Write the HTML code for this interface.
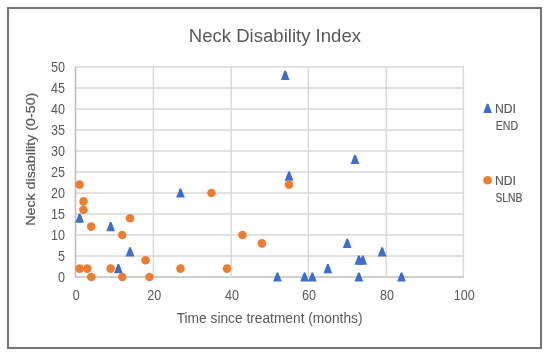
<!DOCTYPE html>
<html><head><meta charset="utf-8"><title>Neck Disability Index</title>
<style>
html,body{margin:0;padding:0;background:#fff;}
svg{display:block;}
text{font-family:'Liberation Sans', sans-serif;fill:#595959;}
</style></head>
<body>
<svg width="550" height="356" viewBox="0 0 550 356">
<rect x="0" y="0" width="550" height="356" fill="#fff"/>
<rect x="8" y="8" width="533" height="340" fill="#fff" stroke="#767676" stroke-width="2.1"/>
<text x="274.9" y="42" text-anchor="middle" font-size="17.6" textLength="172.2" lengthAdjust="spacingAndGlyphs">Neck Disability Index</text>
<line x1="75.00" y1="67.00" x2="463.90" y2="67.00" stroke="#D9D9D9" stroke-width="1.4"/><line x1="75.00" y1="88.00" x2="463.90" y2="88.00" stroke="#D9D9D9" stroke-width="1.4"/><line x1="75.00" y1="109.00" x2="463.90" y2="109.00" stroke="#D9D9D9" stroke-width="1.4"/><line x1="75.00" y1="130.00" x2="463.90" y2="130.00" stroke="#D9D9D9" stroke-width="1.4"/><line x1="75.00" y1="151.00" x2="463.90" y2="151.00" stroke="#D9D9D9" stroke-width="1.4"/><line x1="75.00" y1="172.00" x2="463.90" y2="172.00" stroke="#D9D9D9" stroke-width="1.4"/><line x1="75.00" y1="193.00" x2="463.90" y2="193.00" stroke="#D9D9D9" stroke-width="1.4"/><line x1="75.00" y1="214.00" x2="463.90" y2="214.00" stroke="#D9D9D9" stroke-width="1.4"/><line x1="75.00" y1="235.00" x2="463.90" y2="235.00" stroke="#D9D9D9" stroke-width="1.4"/><line x1="75.00" y1="256.00" x2="463.90" y2="256.00" stroke="#D9D9D9" stroke-width="1.4"/><line x1="75.00" y1="277.00" x2="463.90" y2="277.00" stroke="#BFBFBF" stroke-width="1.6"/><line x1="75.50" y1="66.50" x2="75.50" y2="277.50" stroke="#BFBFBF" stroke-width="1.6"/><line x1="153.40" y1="66.50" x2="153.40" y2="277.50" stroke="#D9D9D9" stroke-width="1.4"/><line x1="231.20" y1="66.50" x2="231.20" y2="277.50" stroke="#D9D9D9" stroke-width="1.4"/><line x1="308.30" y1="66.50" x2="308.30" y2="277.50" stroke="#D9D9D9" stroke-width="1.4"/><line x1="386.20" y1="66.50" x2="386.20" y2="277.50" stroke="#D9D9D9" stroke-width="1.4"/><line x1="463.40" y1="66.50" x2="463.40" y2="277.50" stroke="#D9D9D9" stroke-width="1.4"/><polygon points="78.83,213.60 80.43,213.60 83.98,222.80 75.28,222.80" fill="#3E6DCD"/><polygon points="109.86,222.00 111.46,222.00 115.01,231.20 106.31,231.20" fill="#3E6DCD"/><polygon points="117.61,264.00 119.21,264.00 122.76,273.20 114.06,273.20" fill="#3E6DCD"/><polygon points="129.25,247.20 130.85,247.20 134.40,256.40 125.70,256.40" fill="#3E6DCD"/><polygon points="179.67,188.40 181.27,188.40 184.82,197.60 176.12,197.60" fill="#3E6DCD"/><polygon points="276.63,272.40 278.23,272.40 281.78,281.60 273.08,281.60" fill="#3E6DCD"/><polygon points="284.39,70.80 285.99,70.80 289.54,80.00 280.84,80.00" fill="#3E6DCD"/><polygon points="288.27,171.60 289.87,171.60 293.42,180.80 284.72,180.80" fill="#3E6DCD"/><polygon points="303.78,272.40 305.38,272.40 308.93,281.60 300.23,281.60" fill="#3E6DCD"/><polygon points="311.54,272.40 313.14,272.40 316.69,281.60 307.99,281.60" fill="#3E6DCD"/><polygon points="327.05,264.00 328.65,264.00 332.20,273.20 323.50,273.20" fill="#3E6DCD"/><polygon points="346.44,238.80 348.05,238.80 351.60,248.00 342.89,248.00" fill="#3E6DCD"/><polygon points="354.20,154.80 355.80,154.80 359.35,164.00 350.65,164.00" fill="#3E6DCD"/><polygon points="358.08,255.60 359.68,255.60 363.23,264.80 354.53,264.80" fill="#3E6DCD"/><polygon points="361.96,255.60 363.56,255.60 367.11,264.80 358.41,264.80" fill="#3E6DCD"/><polygon points="358.08,272.40 359.68,272.40 363.23,281.60 354.53,281.60" fill="#3E6DCD"/><polygon points="381.35,247.20 382.95,247.20 386.50,256.40 377.80,256.40" fill="#3E6DCD"/><polygon points="400.74,272.40 402.34,272.40 405.89,281.60 397.19,281.60" fill="#3E6DCD"/><circle cx="79.63" cy="184.60" r="4.3" fill="#ED7D31"/><circle cx="83.51" cy="201.40" r="4.3" fill="#ED7D31"/><circle cx="83.51" cy="209.80" r="4.3" fill="#ED7D31"/><circle cx="91.26" cy="226.60" r="4.3" fill="#ED7D31"/><circle cx="79.63" cy="268.60" r="4.3" fill="#ED7D31"/><circle cx="87.39" cy="268.60" r="4.3" fill="#ED7D31"/><circle cx="91.26" cy="277.00" r="4.3" fill="#ED7D31"/><circle cx="110.66" cy="268.60" r="4.3" fill="#ED7D31"/><circle cx="122.29" cy="235.00" r="4.3" fill="#ED7D31"/><circle cx="122.29" cy="277.00" r="4.3" fill="#ED7D31"/><circle cx="130.05" cy="218.20" r="4.3" fill="#ED7D31"/><circle cx="145.56" cy="260.20" r="4.3" fill="#ED7D31"/><circle cx="149.44" cy="277.00" r="4.3" fill="#ED7D31"/><circle cx="180.47" cy="268.60" r="4.3" fill="#ED7D31"/><circle cx="211.50" cy="193.00" r="4.3" fill="#ED7D31"/><circle cx="227.01" cy="268.60" r="4.3" fill="#ED7D31"/><circle cx="242.53" cy="235.00" r="4.3" fill="#ED7D31"/><circle cx="261.92" cy="243.40" r="4.3" fill="#ED7D31"/><circle cx="289.07" cy="184.60" r="4.3" fill="#ED7D31"/>
<g font-size="14">
<text x="64.9" y="282" text-anchor="end" textLength="7.0" lengthAdjust="spacingAndGlyphs">0</text><text x="64.9" y="261" text-anchor="end" textLength="7.0" lengthAdjust="spacingAndGlyphs">5</text><text x="64.9" y="240" text-anchor="end" textLength="14.0" lengthAdjust="spacingAndGlyphs">10</text><text x="64.9" y="219" text-anchor="end" textLength="14.0" lengthAdjust="spacingAndGlyphs">15</text><text x="64.9" y="198" text-anchor="end" textLength="14.0" lengthAdjust="spacingAndGlyphs">20</text><text x="64.9" y="177" text-anchor="end" textLength="14.0" lengthAdjust="spacingAndGlyphs">25</text><text x="64.9" y="156" text-anchor="end" textLength="14.0" lengthAdjust="spacingAndGlyphs">30</text><text x="64.9" y="135" text-anchor="end" textLength="14.0" lengthAdjust="spacingAndGlyphs">35</text><text x="64.9" y="114" text-anchor="end" textLength="14.0" lengthAdjust="spacingAndGlyphs">40</text><text x="64.9" y="93" text-anchor="end" textLength="14.0" lengthAdjust="spacingAndGlyphs">45</text><text x="64.9" y="72" text-anchor="end" textLength="14.0" lengthAdjust="spacingAndGlyphs">50</text>
<text x="76.30" y="300" text-anchor="middle" textLength="7.0" lengthAdjust="spacingAndGlyphs">0</text><text x="154.20" y="300" text-anchor="middle" textLength="14.0" lengthAdjust="spacingAndGlyphs">20</text><text x="232.00" y="300" text-anchor="middle" textLength="14.0" lengthAdjust="spacingAndGlyphs">40</text><text x="309.10" y="300" text-anchor="middle" textLength="14.0" lengthAdjust="spacingAndGlyphs">60</text><text x="387.00" y="300" text-anchor="middle" textLength="14.0" lengthAdjust="spacingAndGlyphs">80</text><text x="464.20" y="300" text-anchor="middle" textLength="21.0" lengthAdjust="spacingAndGlyphs">100</text>
</g>
<text x="269.6" y="323" text-anchor="middle" font-size="14" textLength="185.8" lengthAdjust="spacingAndGlyphs">Time since treatment (months)</text>
<text transform="translate(34.8,159.25) rotate(-90)" x="0" y="0" text-anchor="middle" font-size="13" textLength="133.2" lengthAdjust="spacingAndGlyphs" stroke="#595959" stroke-width="0.2">Neck disability (0-50)</text>
<g font-size="12.2">
<polygon points="486.80,103.80 488.40,103.80 491.95,113.00 483.25,113.00" fill="#3E6DCD"/><text x="495" y="112.8" stroke="#595959" stroke-width="0.15">NDI</text><text x="495.8" y="129.8" textLength="22.4" lengthAdjust="spacingAndGlyphs" stroke="#595959" stroke-width="0.15">END</text><circle cx="487.60" cy="180.20" r="4.3" fill="#ED7D31"/><text x="495" y="184.8" stroke="#595959" stroke-width="0.15">NDI</text><text x="495.4" y="201.5" textLength="27" lengthAdjust="spacingAndGlyphs" stroke="#595959" stroke-width="0.2">SLNB</text>
</g>
</svg>
</body></html>
